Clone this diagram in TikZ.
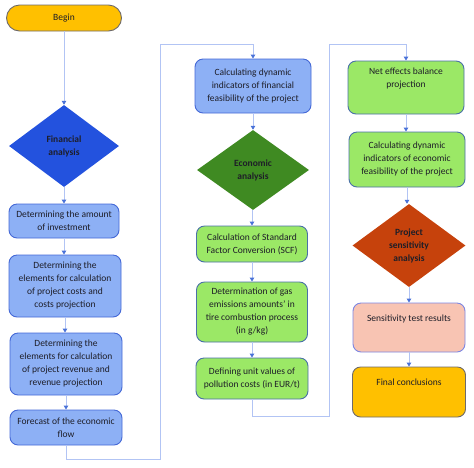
\documentclass[tikz,border=0pt]{standalone}
\usepackage{fontspec}
\setmainfont{Carlito}
\usetikzlibrary{shapes.geometric,arrows.meta}
\definecolor{amber}{HTML}{FFC000}
\definecolor{amberdraw}{HTML}{6E6A6A}
\definecolor{dblue}{HTML}{2352DE}
\definecolor{lblue}{HTML}{8DB0F5}
\definecolor{lbluedraw}{HTML}{4468D6}
\definecolor{dgreen}{HTML}{3F8A22}
\definecolor{lgreen}{HTML}{9BE866}
\definecolor{lgreendraw}{HTML}{4A70A8}
\definecolor{dred}{HTML}{C6420C}
\definecolor{pink}{HTML}{F8C4B3}
\definecolor{pinkdraw}{HTML}{7C86E2}
\definecolor{conn}{HTML}{B2C4F4}
\definecolor{tipc}{HTML}{4A72D8}
\definecolor{txt}{HTML}{1E1E28}
\tikzset{
  boxbase/.style={rectangle, rounded corners=8pt, line width=0.9pt, align=center,
    inner sep=2pt, font=\fontsize{9.5}{13}\selectfont, text=txt},
  bluebox/.style={boxbase, fill=lblue, draw=lbluedraw},
  greenbox/.style={boxbase, fill=lgreen, draw=lgreendraw},
  pinkbox/.style={boxbase, fill=pink, draw=pinkdraw},
  ambbox/.style={boxbase, fill=amber, draw=amberdraw},
  diam/.style={diamond, inner sep=0pt, align=center, draw=none,
    font=\bfseries\fontsize{9.5}{13}\selectfont, text=txt},
  conline/.style={draw=conn, line width=1pt, -{Triangle[length=4pt,width=4.5pt,color=tipc]}}
}
\begin{document}
\begin{tikzpicture}[x=1pt,y=-1pt]
\useasboundingbox (0,0) rectangle (474,467);
% column 1
\node[ambbox, rounded corners=13pt, minimum width=115pt, minimum height=26pt] (begin) at (64,18) {Begin};
\node[diam, fill=dblue, minimum width=110pt, minimum height=82pt] (fin) at (64,146) {Financial\\analysis};
\node[bluebox, minimum width=110pt, minimum height=34pt] (b1) at (64,221) {Determining the amount\\of investment};
\node[bluebox, minimum width=112pt, minimum height=62pt] (b2) at (65,286) {Determining the\\elements for calculation\\of project costs and\\costs projection};
\node[bluebox, minimum width=112pt, minimum height=62pt] (b3) at (66,364) {Determining the\\elements for calculation\\of project revenue and\\revenue projection};
\node[bluebox, minimum width=112pt, minimum height=35pt] (b4) at (66,427.5) {Forecast of the economic\\flow};
% column 2
\node[bluebox, minimum width=116pt, minimum height=54pt] (c1) at (253,86) {Calculating dynamic\\indicators of financial\\feasibility of the project};
\node[diam, fill=dgreen, minimum width=112pt, minimum height=80pt] (c2) at (253,170) {Economic\\analysis};
\node[greenbox, minimum width=111pt, minimum height=36pt] (c3) at (252,244) {Calculation of Standard\\Factor Conversion (SCF)};
\node[greenbox, minimum width=111pt, minimum height=60pt] (c4) at (252,312) {Determination of gas\\emissions amounts' in\\tire combustion process\\(in g/kg)};
\node[greenbox, minimum width=112pt, minimum height=41pt] (c5) at (252,378.5) {Defining unit values of\\pollution costs (in EUR/t)};
% column 3
\node[greenbox, minimum width=116pt, minimum height=53pt] (d1) at (406,87.5) {Net effects balance\\projection\\[6pt]};
\node[greenbox, minimum width=116pt, minimum height=55pt] (d2) at (407,159.5) {Calculating dynamic\\indicators of economic\\feasibility of the project};
\node[diam, fill=dred, minimum width=113pt, minimum height=83pt] (d3) at (409,245.5) {Project\\sensitivity\\analysis};
\node[pinkbox, minimum width=112pt, minimum height=49pt] (d4) at (409,327.5) {Sensitivity test results\\[6pt]};
\node[ambbox, minimum width=113pt, minimum height=50pt] (d5) at (409,392) {Final conclusions\\[6pt]};
% corner points
\coordinate (k1) at (66,459);
\coordinate (k2) at (160,459);
\coordinate (k3) at (160,44);
\coordinate (m1) at (252,416);
\coordinate (m2) at (329,416);
\coordinate (m3) at (329,44);
% connectors
\draw[conline] (begin) -- (fin);
\draw[conline] (fin) -- (b1.north -| fin);
\draw[conline] (b1) -- (b2.north -| b1);
\draw[conline] (b2) -- (b3.north -| b2);
\draw[conline] (b3) -- (b4);
\draw[conline] (b4) -- (k1) -- (k2) -- (k3) -| (c1.north);
\draw[conline] (c1) -- (c2);
\draw[conline] (c2.south -| c3) -- (c3);
\draw[conline] (c3) -- (c4);
\draw[conline] (c4) -- (c5);
\draw[conline] (c5) -- (m1) -- (m2) -- (m3) -| (d1.north);
\draw[conline] (d1.south) -- (d2.north -| d1);
\draw[conline] (d2) -- (d3.north -| d2);
\draw[conline] (d3) -- (d4);
\draw[conline] (d4) -- (d5);
\end{tikzpicture}
\end{document}
